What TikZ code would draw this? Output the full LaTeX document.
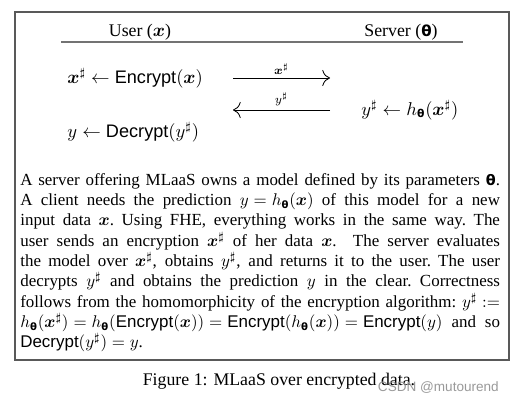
\documentclass[tikz,border=0pt]{standalone}
\usepackage{amsmath}
\usepackage{fontspec}
\setmainfont{Liberation Serif}
\setsansfont{Liberation Sans}
\newfontfamily\thetafont{DejaVu Sans}
\usetikzlibrary{arrows.meta,positioning}
\newcommand{\vx}{\boldsymbol{x}}
\newcommand{\vxs}{\boldsymbol{x}^{\sharp}}
\newcommand{\vys}{y^{\sharp}}
\newcommand{\btheta}{\text{\scalebox{0.85}{\thetafont\bfseries θ}}}
\newcommand{\Enc}{\textsf{Encrypt}}
\newcommand{\Dec}{\textsf{Decrypt}}
\newcommand{\fullline}[1]{\makebox[\linewidth][s]{#1}}
\newcommand{\paraspacing}{%
  \spaceskip=0.25em plus 1em minus 0.05em\relax
  \xspaceskip=0.25em plus 1em minus 0.05em\relax
  \thickmuskip=5mu plus 1mu\relax
  \medmuskip=4mu plus 1mu\relax}
\tikzset{
  frame/.style={draw=black!65, line width=0.7pt},
  hrule/.style={draw=black!55, line width=0.8pt},
  hd/.style={font=\fontsize{10.5}{12}\selectfont, inner sep=0pt},
  eq/.style={anchor=west, inner sep=0pt, font=\fontsize{10.7}{12}\selectfont},
  msg/.style={-{To[length=1.6mm]}, line width=0.5pt},
  lbl/.style={font=\scriptsize, above=1pt, inner sep=1pt},
  para/.style={anchor=north west, text width=283pt, align=left, inner sep=0pt,
               font=\fontsize{10}{12}\selectfont},
  figcap/.style={font=\fontsize{10.5}{12}\selectfont},
  wm/.style={anchor=west, font=\sffamily\fontsize{8}{9}\selectfont, text=black!40},
}
\begin{document}
\begin{tikzpicture}[x=0.59pt, y=-0.59pt]
  \useasboundingbox (0,0) rectangle (521,402);
  \draw[frame] (15,12) rectangle (509,360);
  % protocol
  \node[hd] (user) at (140,32) {User ($\vx$)};
  \node[hd] (server) at (401,32) {Server ($\btheta$)};
  \draw[hrule] (61,42) -- (463,42);
  \node[eq] (enc) at (67,78) {$\vxs \leftarrow \Enc(\vx)$};
  \node[eq] (eval) at (361,110) {$\vys \leftarrow h_{\btheta}(\vxs)$};
  \node[eq] (dec) at (67,132) {$y \leftarrow \Dec(\vys)$};
  \coordinate (sendl) at (233,78);
  \coordinate (sendr) at (330,78);
  \coordinate (backr) at (330,110);
  \coordinate (backl) at (233,110);
  \draw[msg] (sendl) -- node[lbl] {$\vxs$} (sendr);
  \draw[msg] (backr) -- node[lbl] {$\vys$} (backl);
  % explanation
  \node[para] (body) at (20,173) {\paraspacing
    \fullline{A server offering MLaaS owns a model defined by its parameters $\btheta$.}\\
    \fullline{A client needs the prediction $y = h_{\btheta}(\vx)$ of this model for a new}\\
    \fullline{input data $\vx$. Using FHE, everything works in the same way. The}\\
    \fullline{user sends an encryption $\vxs$ of her data $\vx$.\ \ The server evaluates}\\
    \fullline{the model over $\vxs$, obtains $\vys$, and returns it to the user. The user}\\
    \fullline{decrypts $\vys$ and obtains the prediction $y$ in the clear. Correctness}\\
    \fullline{follows from the homomorphicity of the encryption algorithm: $\vys :=$}\\
    \fullline{$h_{\btheta}(\vxs) = h_{\btheta}(\Enc(\vx)) = \Enc(h_{\btheta}(\vx)) = \Enc(y)$ and so}\\
    $\Dec(\vys) = y$.};
  \node[figcap] (caption) at (279,381) {Figure 1: MLaaS over encrypted data.};
  \node[wm] (mark) at (372,388) {CSDN @mutourend};
\end{tikzpicture}
\end{document}
